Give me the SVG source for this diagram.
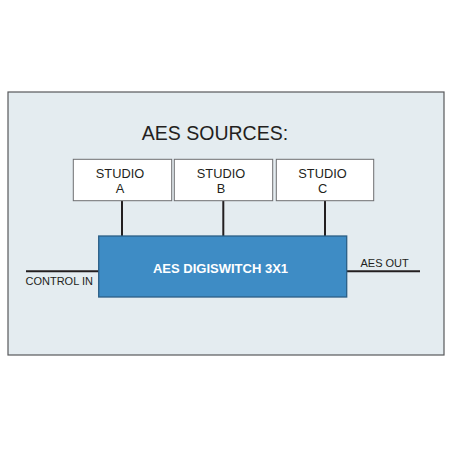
<svg xmlns="http://www.w3.org/2000/svg" width="450" height="450" viewBox="0 0 450 450">
<style>
text{font-family:"Liberation Sans",Arial,sans-serif;fill:#231f20}
.studio rect{fill:#ffffff;stroke:#6d6e71;stroke-width:1}
.studio text{font-size:12.8px;text-anchor:middle}
.wire{stroke:#231f20;stroke-width:2;fill:none}
.lbl{font-size:11px}
</style>
<rect x="0" y="0" width="450" height="450" fill="#ffffff"/>
<rect id="frame" x="8" y="92" width="436" height="263" fill="#e4ecf0" stroke="#58595b" stroke-width="1.2"/>
<text x="215" y="139.5" font-size="19.5" text-anchor="middle">AES SOURCES:</text>
<g id="connectors">
<line class="wire" x1="122" y1="200.7" x2="122" y2="236"/>
<line class="wire" x1="223.3" y1="200.7" x2="223.3" y2="236"/>
<line class="wire" x1="325" y1="200.7" x2="325" y2="236"/>
<line class="wire" x1="26" y1="271.3" x2="99" y2="271.3"/>
<line class="wire" x1="346.7" y1="271.3" x2="420" y2="271.3"/>
<text class="lbl" x="25.5" y="285">CONTROL IN</text>
<text class="lbl" x="360.5" y="267.3">AES OUT</text>
</g>
<g id="studioA" class="studio">
<rect x="73.3" y="159.3" width="98.4" height="41.4"/>
<text x="120" y="178">STUDIO</text>
<text x="120" y="193">A</text>
</g>
<g id="studioB" class="studio">
<rect x="174.3" y="159.3" width="98.4" height="41.4"/>
<text x="221" y="178">STUDIO</text>
<text x="221" y="193">B</text>
</g>
<g id="studioC" class="studio">
<rect x="276.3" y="159.3" width="97.4" height="41.4"/>
<text x="322.5" y="178">STUDIO</text>
<text x="322.5" y="193">C</text>
</g>
<g id="switch">
<rect x="98.7" y="236" width="248" height="61" fill="#3e8cc5" stroke="#2b5f86" stroke-width="1.3"/>
<text x="220.5" y="272.7" font-size="13" font-weight="bold" text-anchor="middle" style="fill:#ffffff">AES DIGISWITCH 3X1</text>
</g>
</svg>
